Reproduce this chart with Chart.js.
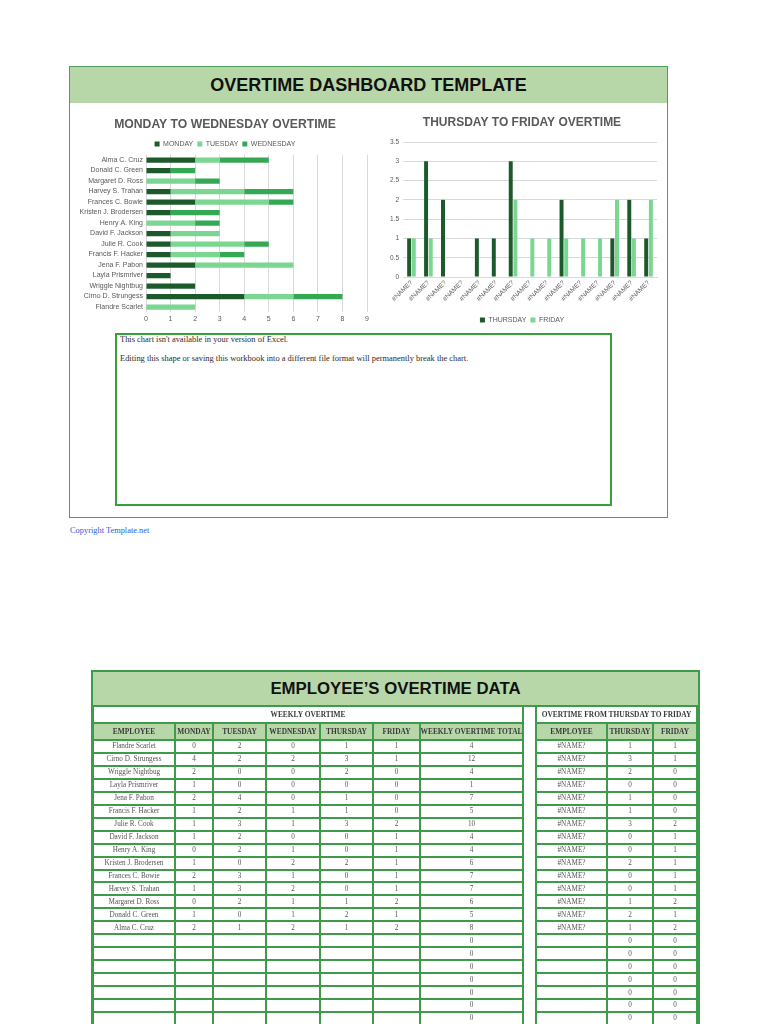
<!DOCTYPE html>
<html>
<head>
<meta charset="utf-8">
<script src="https://cdn.jsdelivr.net/npm/chart.js@4.4.1/dist/chart.umd.min.js"></script>
<style>
  html, body { margin: 0; padding: 0; background: #fff; }
  body { width: 768px; height: 1024px; position: relative; overflow: hidden; font-family: "Liberation Sans", Arial, sans-serif; }
  .abs { position: absolute; box-sizing: border-box; }
  .band { background: #b7d7a8; }
  .bigtitle { font-family: "Liberation Sans", Arial, sans-serif; font-weight: bold; color: #111; font-size: 18px; text-align: center; white-space: nowrap; }
  .msg { font-family: "Liberation Serif", "Times New Roman", serif; font-size: 8.45px; color: #2b2b2b; white-space: nowrap; }
  .cell { position: absolute; display: flex; align-items: center; justify-content: center; font-family: "Liberation Serif", "Times New Roman", serif; font-size: 7.2px; color: #555; white-space: nowrap; overflow: hidden; }
  .hdr { font-weight: bold; color: #3a3a3a; font-size: 7.4px; }
  .gl { position: absolute; background: #3e9b4c; }
  canvas { display: block; }
</style>
</head>
<body>

<!-- Dashboard frame -->
<div class="abs" style="left:69px;top:66px;width:599px;height:452px;border:1px solid #4f9f5b;"></div>
<div class="abs band" style="left:70px;top:67px;width:597px;height:36px;"></div>
<div class="abs bigtitle" id="dashTitle" style="left:70px;top:74px;width:597px;line-height:22px;">OVERTIME DASHBOARD TEMPLATE</div>

<div class="abs" style="left:70px;top:108px;width:305px;height:222px;"><canvas id="mtw" width="305" height="222"></canvas></div>
<div class="abs" style="left:375px;top:108px;width:290px;height:222px;"><canvas id="tf" width="290" height="222"></canvas></div>

<!-- Unavailable chart placeholder -->
<div class="abs" style="left:115px;top:333px;width:497px;height:173px;border:2px solid #37a037;"></div>
<div class="abs msg" style="left:120px;top:334px;">This chart isn't available in your version of Excel.</div>
<div class="abs msg" style="left:120px;top:353px;">Editing this shape or saving this workbook into a different file format will permanently break the chart.</div>

<div class="abs msg" style="left:70px;top:526px;font-size:8.4px;color:#2a5bd7;">Copyright Template.net</div>

<!-- Data table -->
<div id="tableArea" class="abs" style="left:0;top:0;width:768px;height:1024px;"></div>

<script>
// ---------------- DATA ----------------
const employees = [
  "Flandre Scarlet", "Cirno D. Strungess", "Wriggle Nightbug", "Layla Prismriver",
  "Jena F. Pabon", "Francis F. Hacker", "Julie R. Cook", "David F. Jackson",
  "Henry A. King", "Kristen J. Brodersen", "Frances C. Bowie", "Harvey S. Trahan",
  "Margaret D. Ross", "Donald C. Green", "Alma C. Cruz"
];
const monday    = [0, 4, 2, 1, 2, 1, 1, 1, 0, 1, 2, 1, 0, 1, 2];
const tuesday   = [2, 2, 0, 0, 4, 2, 3, 2, 2, 0, 3, 3, 2, 0, 1];
const wednesday = [0, 2, 0, 0, 0, 1, 1, 0, 1, 2, 1, 2, 1, 1, 2];
const thursday  = [1, 3, 2, 0, 1, 1, 3, 0, 0, 2, 0, 0, 1, 2, 1];
const friday    = [1, 1, 0, 0, 0, 0, 2, 1, 1, 1, 1, 1, 2, 1, 2];
const weeklyTotal = [4, 12, 4, 1, 7, 5, 10, 4, 4, 6, 7, 7, 6, 5, 8];
const nameErrorLabels = ["#NAME?", "#NAME?", "#NAME?", "#NAME?", "#NAME?", "#NAME?", "#NAME?", "#NAME?",
                         "#NAME?", "#NAME?", "#NAME?", "#NAME?", "#NAME?", "#NAME?", "#NAME?"];
const dayLegend = ["MONDAY", "TUESDAY", "WEDNESDAY"];
const tfLegend = ["THURSDAY", "FRIDAY"];
const mtwTicks = [0, 1, 2, 3, 4, 5, 6, 7, 8, 9];
const tfTicks = [0, 0.5, 1, 1.5, 2, 2.5, 3, 3.5];
const tfTickLabels = ["0", "0.5", "1", "1.5", "2", "2.5", "3", "3.5"];
const weeklyHeaders = ["EMPLOYEE", "MONDAY", "TUESDAY", "WEDNESDAY", "THURSDAY", "FRIDAY", "WEEKLY OVERTIME TOTAL"];
const tfHeaders = ["EMPLOYEE", "THURSDAY", "FRIDAY"];
const emptyRowTotal = "0";
const emptyRowCount = 7;

// ---------------- STYLE ----------------
const C_DARK = "#1c5a2b", C_LIGHT = "#7bd692", C_MID = "#34a853";
const GRID = "#d9d9d9", TXT = "#595959";
const FONT = "'Liberation Sans', Arial, sans-serif";

Chart.defaults.font.family = FONT;
Chart.defaults.color = TXT;
Chart.defaults.animation = false;

// shifts title + legend horizontally (header centred over the whole chart object, as in Excel)
const shiftHeader = {
  id: "shiftHeader",
  afterLayout(chart, args, opts) {
    const dx = opts.dx || 0;
    [chart.titleBlock, chart.legend].forEach(b => { if (b) { b.left += dx; b.right += dx; } });
  }
};

// ---------------- CHART 1: Monday to Wednesday ----------------
new Chart(document.getElementById("mtw"), {
  type: "bar",
  plugins: [shiftHeader],
  data: {
    labels: employees,
    datasets: [
      { label: dayLegend[0], data: monday, backgroundColor: C_DARK },
      { label: dayLegend[1], data: tuesday, backgroundColor: C_LIGHT },
      { label: dayLegend[2], data: wednesday, backgroundColor: C_MID }
    ]
  },
  options: {
    indexAxis: "y",
    responsive: false,
    layout: { padding: { left: 7, right: 8, top: 0, bottom: 0 } },
    plugins: {
      shiftHeader: { dx: 3 },
      tooltip: { enabled: false },
      title: { display: true, text: "MONDAY TO WEDNESDAY OVERTIME", color: TXT,
               font: { size: 12.2, weight: "bold" }, padding: { top: 9, bottom: 4.86 } },
      legend: { display: true, position: "top", maxHeight: 18.25,
                labels: { boxWidth: 5, boxHeight: 5, padding: 4, color: TXT, font: { size: 7 } } }
    },
    datasets: { bar: { barPercentage: 0.5, categoryPercentage: 1 } },
    scales: {
      x: {
        stacked: true, min: 0, max: 9,
        afterBuildTicks: s => { s.ticks = mtwTicks.map(v => ({ value: v })); },
        ticks: { font: { size: 7 }, color: TXT, padding: 3 },
        grid: { color: GRID, drawTicks: false },
        border: { display: false },
        afterFit: s => { s.height = 17.75; }
      },
      y: {
        stacked: true, reverse: true,
        ticks: { font: { size: 7 }, color: TXT, padding: 3, autoSkip: false },
        grid: { display: false, drawTicks: false },
        border: { display: false },
        afterFit: s => { s.width = 69; }
      }
    }
  }
});

// ---------------- CHART 2: Thursday to Friday ----------------
new Chart(document.getElementById("tf"), {
  type: "bar",
  data: {
    labels: nameErrorLabels,
    datasets: [
      { label: tfLegend[0], data: thursday, backgroundColor: C_DARK },
      { label: tfLegend[1], data: friday, backgroundColor: C_LIGHT }
    ]
  },
  options: {
    responsive: false,
    layout: { padding: { left: 12, right: 8, top: 0, bottom: 0 } },
    plugins: {
      tooltip: { enabled: false },
      title: { display: true, text: "THURSDAY TO FRIDAY OVERTIME", color: TXT,
               font: { size: 12, weight: "bold" }, padding: { top: 7.8, bottom: 11.8 } },
      legend: { display: true, position: "bottom", maxHeight: 17.5,
                labels: { boxWidth: 5, boxHeight: 5, padding: 4, color: TXT, font: { size: 7 } } }
    },
    datasets: { bar: { barPercentage: 0.85, categoryPercentage: 0.55 } },
    scales: {
      x: {
        ticks: { font: { size: 6.5 }, color: TXT, padding: 2, autoSkip: false, maxRotation: 45, minRotation: 45 },
        grid: { display: false, drawTicks: false },
        border: { display: true, color: GRID },
        afterFit: s => { s.height = 35.5; }
      },
      y: {
        min: 0, max: 3.5,
        afterBuildTicks: s => { s.ticks = tfTicks.map(v => ({ value: v })); },
        ticks: { font: { size: 6.5 }, color: TXT, padding: 4,
                 callback: (v, i) => tfTickLabels[i] },
        grid: { color: GRID, drawTicks: false },
        border: { display: false },
        afterFit: s => { s.width = 16; }
      }
    }
  }
});

// ---------------- TABLE ----------------
const area = document.getElementById("tableArea");
function el(cls, style, text) {
  const d = document.createElement("div");
  d.className = cls;
  Object.assign(d.style, style);
  if (text !== undefined) d.textContent = text;
  area.appendChild(d);
  return d;
}
function hline(x1, x2, y) { el("gl", { left: x1 - 1 + "px", top: y - 1 + "px", width: (x2 - x1 + 2) + "px", height: "2px" }); }
function vline(x, y1, y2) { el("gl", { left: x - 1 + "px", top: y1 - 1 + "px", width: "2px", height: (y2 - y1 + 2) + "px" }); }
function cellText(x1, x2, y1, y2, text, extra) {
  el("cell" + (extra ? " " + extra : ""), { left: x1 + "px", top: y1 + "px", width: (x2 - x1) + "px", height: (y2 - y1) + "px" }, text);
}

const OX1 = 92, OX2 = 699, OY1 = 671, BAND_B = 706;
el("abs band", { left: OX1 + "px", top: OY1 + "px", width: (OX2 - OX1) + "px", height: (BAND_B - OY1) + "px" });
el("abs bigtitle", { left: OX1 + "px", top: (OY1 + 7) + "px", width: (OX2 - OX1) + "px", lineHeight: "22px", fontSize: "16.8px" }, "EMPLOYEE\u2019S OVERTIME DATA");
hline(OX1, OX2, OY1);
vline(OX1, OY1, 1030);
vline(OX2, OY1, 1030);
hline(OX1, OX2, BAND_B);

const LC = [93, 175, 213, 266, 320, 373, 420, 523];
const RC = [536, 607, 653, 697];
const R_TITLE = [706, 723], R_HEAD = [723, 740];
const ROW_H = 12.95, ROW0 = 740;
const nRows = employees.length + emptyRowCount;
const rowY = i => ROW0 + i * ROW_H;

function drawTable(cols, title, headers, rowsData) {
  const x1 = cols[0], x2 = cols[cols.length - 1];
  cellText(x1, x2, R_TITLE[0], R_TITLE[1], title, "hdr");
  el("abs band", { left: x1 + "px", top: R_HEAD[0] + "px", width: (x2 - x1) + "px", height: (R_HEAD[1] - R_HEAD[0]) + "px" });
  headers.forEach((h, j) => cellText(cols[j], cols[j + 1], R_HEAD[0], R_HEAD[1], h, "hdr"));
  rowsData.forEach((r, i) => r.forEach((t, j) => cellText(cols[j], cols[j + 1], rowY(i), rowY(i + 1), t)));
  hline(x1, x2, R_TITLE[0]);
  hline(x1, x2, R_TITLE[1]);
  hline(x1, x2, R_HEAD[1]);
  for (let i = 1; i <= nRows + 1; i++) hline(x1, x2, rowY(i));
  vline(x1, R_TITLE[0], 1030);
  vline(x2, R_TITLE[0], 1030);
  for (let j = 1; j < cols.length - 1; j++) vline(cols[j], R_TITLE[1], 1030);
}

const weeklyRows = employees.map((n, i) => [n, monday[i], tuesday[i], wednesday[i], thursday[i], friday[i], weeklyTotal[i]].map(String));
for (let k = 0; k < emptyRowCount; k++) weeklyRows.push(["", "", "", "", "", "", emptyRowTotal]);
drawTable(LC, "WEEKLY OVERTIME", weeklyHeaders, weeklyRows);

const tfRows = employees.map((n, i) => [nameErrorLabels[i], thursday[i], friday[i]].map(String));
for (let k = 0; k < emptyRowCount; k++) tfRows.push(["", emptyRowTotal, emptyRowTotal]);
drawTable(RC, "OVERTIME FROM THURSDAY TO FRIDAY", tfHeaders, tfRows);
</script>
</body>
</html>
